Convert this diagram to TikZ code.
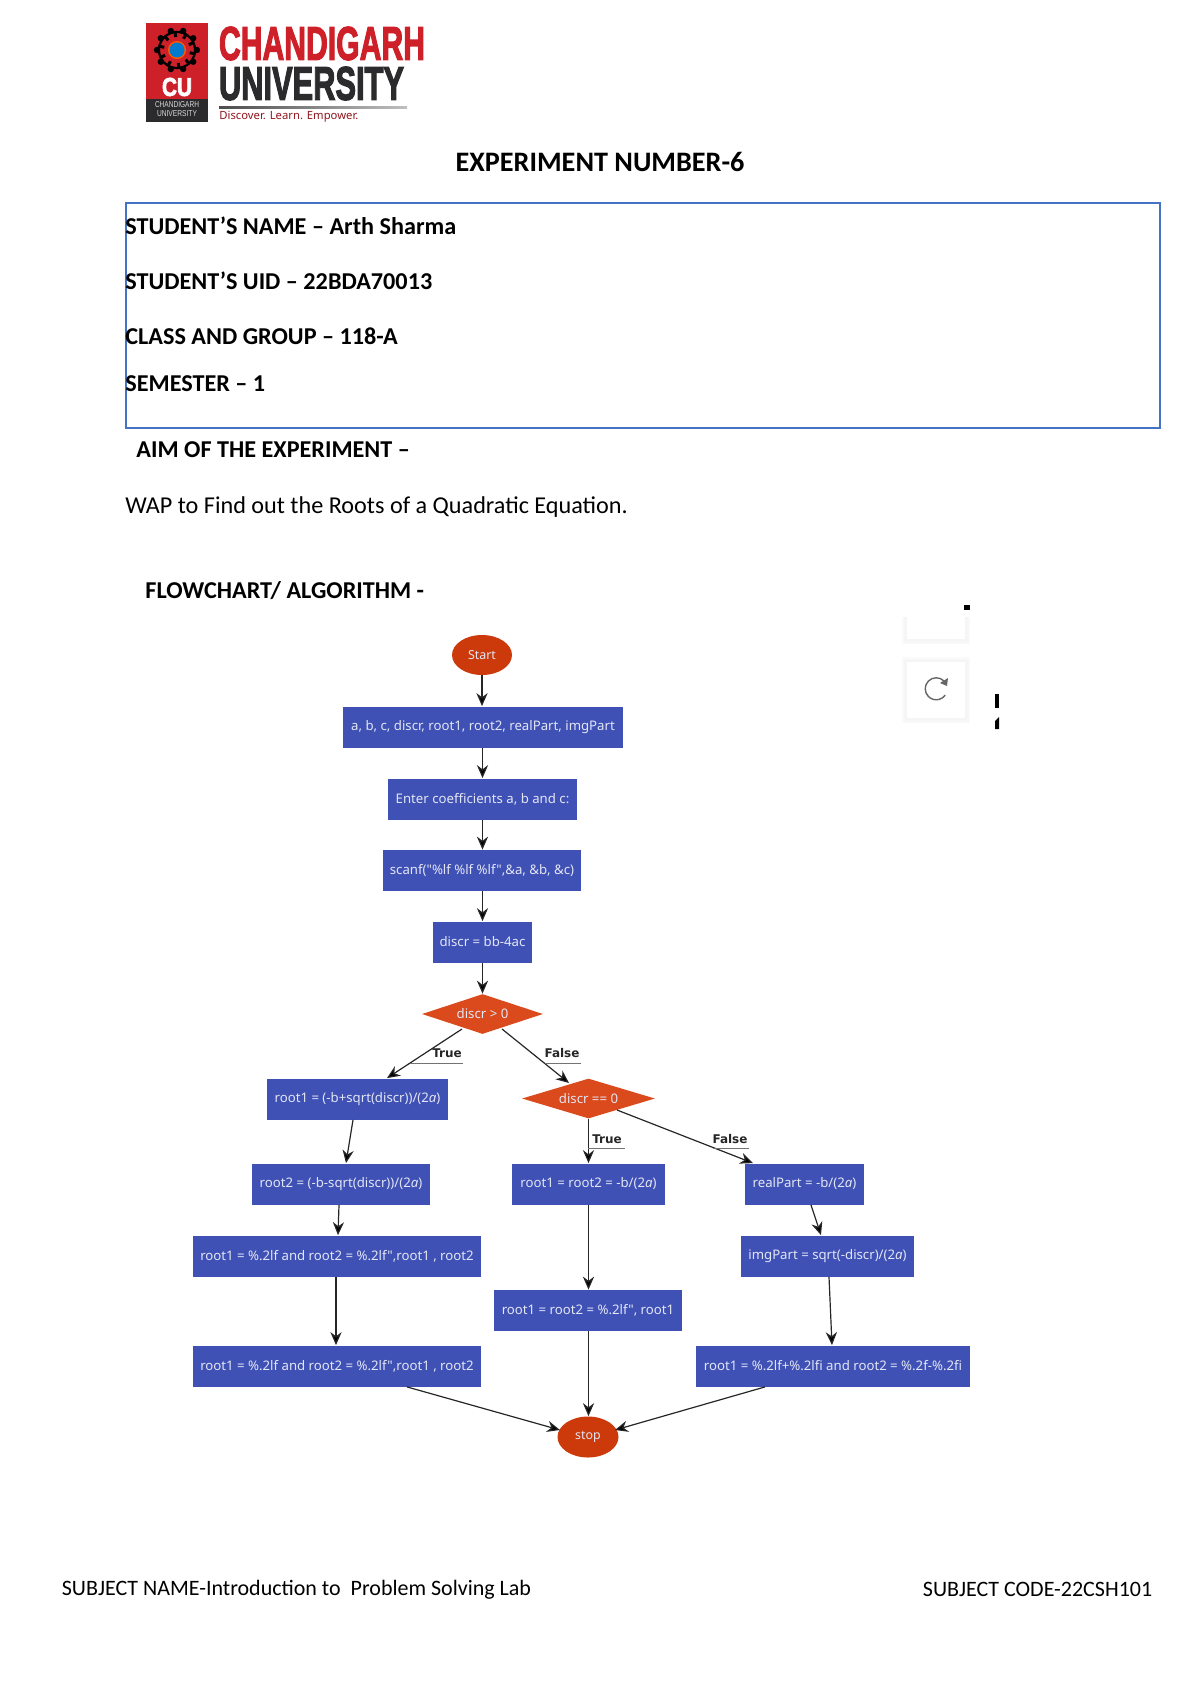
\documentclass[tikz,border=0pt]{standalone}
\usepackage{fontspec}
\usepackage{graphicx}
\setmainfont{Carlito}
\newfontfamily\flowfont{Noto Sans}
\newfontfamily\labfont{DejaVu Sans}
\newfontfamily\logofont{Liberation Sans}
\newfontfamily\logoheavy[FakeBold=3]{Liberation Sans Bold}
\usetikzlibrary{arrows.meta,shapes.geometric}
\definecolor{boxblue}{HTML}{3F51B5}
\definecolor{flowtxt}{HTML}{E3E6F5}
\definecolor{decor}{HTML}{DB4A1C}
\definecolor{termred}{HTML}{CC3A0C}
\definecolor{frameblue}{HTML}{4472C4}
\definecolor{logored}{HTML}{CE2029}
\definecolor{logodark}{HTML}{2B2B2D}
\tikzset{
  fbox/.style={rectangle,fill=boxblue,text=flowtxt,inner sep=0pt,minimum height=20.5pt,font=\flowfont\fontsize{6.6}{8}\selectfont},
  fdec/.style={diamond,fill=decor,text=flowtxt,inner sep=0pt,aspect=3,font=\flowfont\fontsize{6.6}{8}\selectfont},
  fterm/.style={ellipse,fill=termred,text=flowtxt,inner sep=0pt,font=\flowfont\fontsize{6.2}{8}\selectfont},
  conn/.style={draw=black!85,line width=0.6pt,-{Stealth[length=6.5pt,width=5.6pt,fill=black]}},
  ul/.style={draw=black!55,line width=0.5pt},
  lab/.style={text=black!85,inner sep=0pt,font=\labfont\bfseries\fontsize{6}{7}\selectfont},
  head/.style={anchor=west,inner sep=0pt,font=\bfseries\fontsize{12.1}{14}\selectfont},
  plain/.style={anchor=west,inner sep=0pt,font=\fontsize{12.1}{14}\selectfont},
  foot/.style={anchor=west,inner sep=0pt,font=\fontsize{11}{13}\selectfont},
  card/.style={fill=white},
}
\begin{document}
\begin{tikzpicture}[x=0.5pt,y=-0.5pt]
\useasboundingbox (0,0) rectangle (1200,1698);
% logo
\fill[logored] (146,23) rectangle (208,99);
\fill[logodark] (146,99) rectangle (208,122);
\foreach \a in {0,36,...,324}{
  \fill[black] (177,50) ++(\a:20) circle (3.2);
  \draw[black,line width=1.5pt] (177,50) ++(\a+12:13) -- ++(\a+12:6);
  \draw[black,line width=1.1pt] (177,50) ++(\a-18:18) arc[start angle=\a-18,end angle=\a+18,radius=18];
}
\fill[orange!70!red] (177,50) circle (9);
\fill[blue!40!cyan!80!black] (177,50) circle (7.5);
\node[inner sep=0pt,text=white] (logocu) at (177,87) {\resizebox{15pt}{9pt}{\logoheavy CU}};
\node[inner sep=0pt,text=white!85!black] (logos1) at (177,105) {\resizebox{22pt}{3pt}{\logofont CHANDIGARH}};
\node[inner sep=0pt,text=white!85!black] (logos2) at (177,114) {\resizebox{20pt}{3pt}{\logofont UNIVERSITY}};
\node[inner sep=0pt,text=logored] (logo1) at (322,43.5) {\resizebox{103pt}{16.5pt}{\logoheavy CHANDIGARH}};
\node[inner sep=0pt,text=logodark] (logo2) at (311.5,83.5) {\resizebox{92.5pt}{16.5pt}{\logoheavy UNIVERSITY}};
\fill[left color=black!70,right color=black!25] (219,106) rectangle (407,108.5);
\node[anchor=west,inner sep=0pt,text=logored!70!black] (logotag) at (219,117) {\resizebox{69.5pt}{!}{\flowfont Discover. Learn. Empower.}};
% header
\node[inner sep=0pt,font=\bfseries\fontsize{14.1}{16}\selectfont] (title) at (600,161.5) {EXPERIMENT NUMBER-6};
\draw[frameblue,line width=0.6pt] (126,203) rectangle (1160,428);
\node[head] (sname) at (125,225.5) {STUDENT’S NAME – Arth Sharma};
\node[head] (suid) at (125,280.5) {STUDENT’S UID – 22BDA70013};
\node[head] (sclass) at (125,336.5) {CLASS AND GROUP – 118-A};
\node[head] (ssem) at (125,384) {SEMESTER – 1};
\node[head] (aim) at (136,450) {AIM OF THE EXPERIMENT –};
\node[plain] (wap) at (125,507.5) {WAP to Find out the Roots of a Quadratic Equation.};
\node[head] (fc) at (145,591) {FLOWCHART/ ALGORITHM -};
% widget remnants
\begin{scope}
\clip (890,617) rectangle (985,650);
\foreach \w/\o in {5/2,3.5/3,2/4}{\draw[black!\o,line width=\w pt] (907,600) rectangle (965,639);}
\fill[card] (907,600) rectangle (965,639);
\end{scope}
\foreach \w/\o in {5/2,3.5/3,2/4}{\draw[black!\o,line width=\w pt] (907,662) rectangle (965,718);}
\fill[card] (907,662) rectangle (965,718);
\draw[black!60,line width=0.7pt] (944,681) arc[start angle=-45,end angle=-325,radius=11];
\fill[black!60] (948,678) -- (947,686) -- (940,683) -- cycle;
\fill[black] (964,604.5) rectangle (970,609.5);
\fill[black] (995,694) rectangle (999,708);
\fill[black] (995,721) -- (999,717) -- (999,729) -- (995,729) -- cycle;
% flow nodes
\node[fterm,minimum width=30pt,minimum height=20pt] (start) at (482,655) {Start};
\node[fbox,minimum width=140pt] (box1) at (483,727) {a, b, c, discr, root1, root2, realPart, imgPart};
\node[fbox,minimum width=94.5pt] (box2) at (482.5,799) {\raisebox{1pt}{Enter coefficients a, b and c:}};
\node[fbox,minimum width=99pt] (box3) at (482,870.5) {scanf("\%lf \%lf \%lf",\&a, \&b, \&c)};
\node[fbox,minimum width=49.5pt] (box4) at (482.5,942) {discr = bb-4ac};
\node[fdec,minimum width=60.5pt,minimum height=20pt] (d1) at (482.5,1014) {discr > 0};
\node[fbox,minimum width=90.5pt] (r1) at (357.5,1099) {root1 = (-b+sqrt(discr))/(2\textit{a})};
\node[fdec,minimum width=66.5pt,minimum height=20pt] (d2) at (588.5,1098.5) {discr == 0};
\node[fbox,minimum width=89pt] (r2) at (341,1184) {\raisebox{0.5pt}{root2 = (-b-sqrt(discr))/(2\textit{a})}};
\node[fbox,minimum width=144pt] (r3) at (337,1256) {root1 = \%.2lf and root2 = \%.2lf",root1 , root2};
\node[fbox,minimum width=144pt] (r4) at (337,1366) {root1 = \%.2lf and root2 = \%.2lf",root1 , root2};
\node[fbox,minimum width=76.5pt] (e1) at (588.5,1184) {\raisebox{0.5pt}{root1 = root2 = -b/(2\textit{a})}};
\node[fbox,minimum width=94pt] (e2) at (588,1310.5) {root1 = root2 = \%.2lf", root1};
\node[fbox,minimum width=59.5pt] (f1) at (804.5,1184) {\raisebox{0.5pt}{realPart = -b/(2\textit{a})}};
\node[fbox,minimum width=86.5pt] (f2) at (827.5,1256) {imgPart = sqrt(-discr)/(2\textit{a})};
\node[fbox,minimum width=137pt] (f3) at (833,1366) {root1 = \%.2lf+\%.2lfi and root2 = \%.2f-\%.2fi};
\node[fterm,minimum width=30.5pt,minimum height=20.5pt] (stop) at (588,1437) {stop};
% connectors
\draw[conn] (start.south) -- (start.south |- box1.north);
\draw[conn] (box1.south -| box2.north) -- (box2.north);
\draw[conn] (box2.south) -- (box2.south |- box3.north);
\draw[conn] (box3.south -| box4.north) -- (box4.north);
\draw[conn] (box4.south) -- (d1.north);
\draw[conn] ([shift={(-20.5,15)}]d1.center) -- ([shift={(29.5,0)}]r1.north);
\draw[conn] ([shift={(19.5,15)}]d1.center) -- ([shift={(-19.5,-15.5)}]d2.center);
\draw[conn] ([shift={(-4.5,0)}]r1.south) -- ([shift={(5,0)}]r2.north);
\draw[conn] ([shift={(-2,0)}]r2.south) -- ([shift={(1,0)}]r3.north);
\draw[conn] ([shift={(-1,0)}]r3.south) -- ([shift={(-1,0)}]r4.north);
\draw[conn] ([shift={(70,0)}]r4.south) -- ([shift={(-28,-7)}]stop.center);
\draw[conn] (d2.south) -- (d2.south |- e1.north);
\draw[conn] (e1.south -| d2.south) -- (e2.north -| d2.south);
\draw[conn] (e2.south -| d2.south) -- (stop.north -| d2.south);
\draw[conn] ([shift={(28.5,11.5)}]d2.center) -- ([shift={(-51.5,0)}]f1.north);
\draw[conn] ([shift={(6.5,0)}]f1.south) -- ([shift={(-6.5,0)}]f2.north);
\draw[conn] ([shift={(1.5,0)}]f2.south) -- ([shift={(-1,0)}]f3.north);
\draw[conn] ([shift={(-68,0)}]f3.south) -- ([shift={(27,-7)}]stop.center);
% edge labels
\node[lab] (lt1) at (447,1053) {True};
\draw[ul] ([shift={(-37,10)}]lt1.center) -- ([shift={(16,10)}]lt1.center);
\node[lab] (lf1) at (562,1053) {False};
\draw[ul] ([shift={(-17,10)}]lf1.center) -- ([shift={(19,10)}]lf1.center);
\node[lab] (lt2) at (607,1139) {True};
\draw[ul] ([shift={(-19,9)}]lt2.center) -- ([shift={(18,9)}]lt2.center);
\node[lab] (lf2) at (730,1139) {False};
\draw[ul] ([shift={(-17,9)}]lf2.center) -- ([shift={(19,9)}]lf2.center);
% footer
\node[foot] (fl) at (61.5,1589.5) {SUBJECT NAME-Introduction to\ \ Problem Solving Lab};
\node[foot] (fr) at (922.5,1589) {SUBJECT CODE-22CSH101};
\end{tikzpicture}
\end{document}
